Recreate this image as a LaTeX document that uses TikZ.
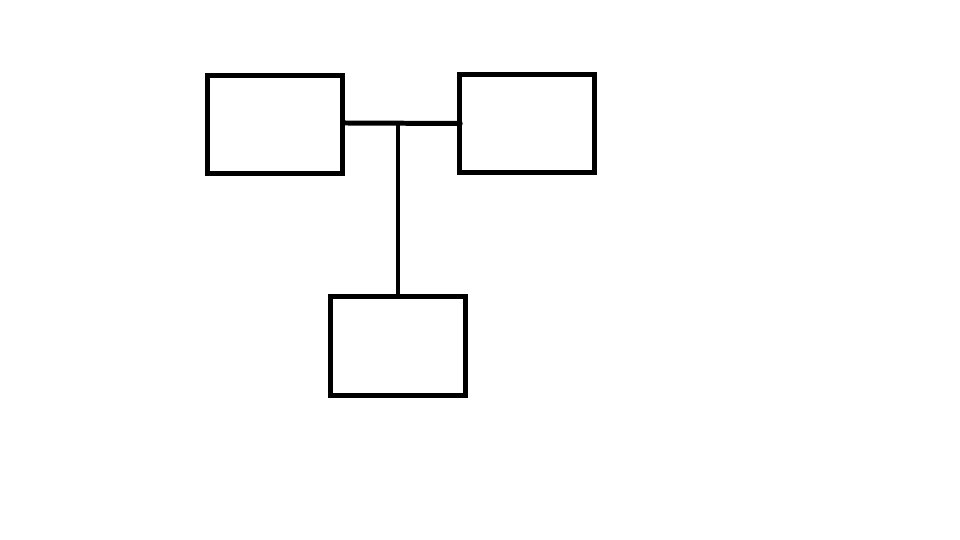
\documentclass[tikz,border=0pt]{standalone}
\begin{document}
\begin{tikzpicture}
[inner sep=0pt, line width=1.42pt,
box/.style={draw, rectangle, minimum width=1.345cm, minimum height=0.985cm},
link/.style={draw, line cap=round}]
\useasboundingbox (0,0) rectangle (9.6,5.4);
\node[box] (left) at (2.75,4.155) {};
\node[box] (right) at (5.27,4.165) {};
\node[box] (bottom) at (3.98,1.94) {};

% TEE
\coordinate (tee) at (bottom.north |- left.east);
\coordinate (tip) at ([xshift=0.03cm]right.west);
\draw [link] ([yshift=0.015cm]left.east) -- (tip);
\draw [link] (tee) -- (bottom.north);
\end{tikzpicture}
\end{document}
